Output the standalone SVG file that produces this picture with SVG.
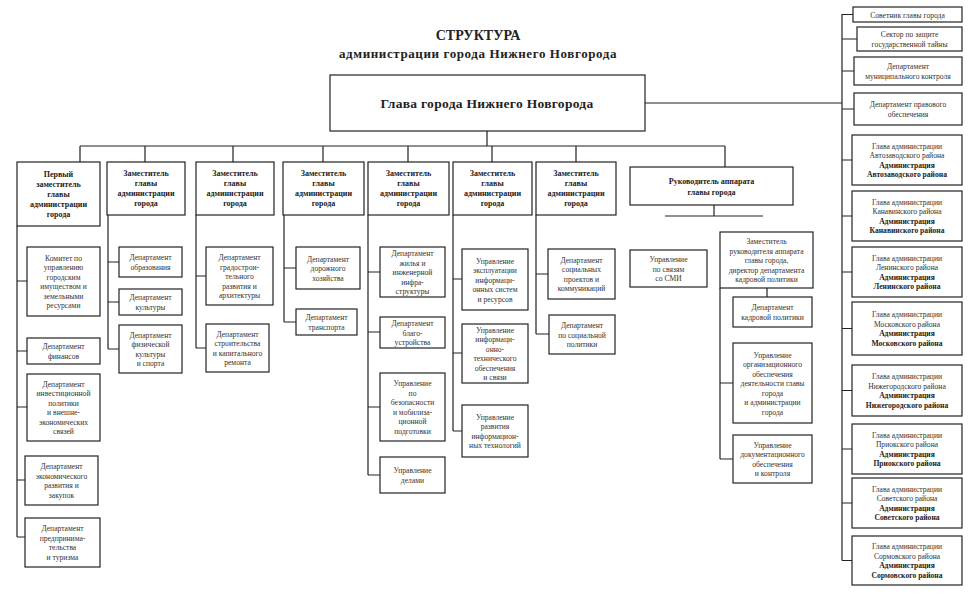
<svg xmlns="http://www.w3.org/2000/svg" width="970" height="607" viewBox="0 0 970 607">
<style>
rect{fill:#fff;stroke:#222;stroke-width:1.2}
text{font-family:"Liberation Serif",serif;font-size:7.6px;fill:#333;text-anchor:middle}
.h{font-weight:bold;font-size:8px;fill:#222}
.bd{font-weight:bold;fill:#222}
#conn path{fill:none;stroke:#222;stroke-width:1.2}
</style>
<rect width="970" height="607" style="fill:#fff;stroke:none"/>
<g id="title"><text x="478" y="40" style="font-size:14px;font-weight:bold;fill:#222">СТРУКТУРА</text>
<text x="478" y="58" style="font-size:13px;font-weight:bold;fill:#222;letter-spacing:0.6px">администрации города Нижнего Новгорода</text></g>
<g id="conn">
<path d="M645 103H842M842 14V560.5M487 131V146M80 146H725M80 146V162M145 146V162M233 146V162M323 146V162M408 146V162M492 146V162M576 146V162M725 146V167"/>
<path d="M842 14.5H853M842 39H857M842 71H854M842 109H854M842 160H852M842 216H852M842 272H852M842 328.5H852M842 390.5H852M842 449H852M842 503H852M842 560.5H852"/>
<path d="M17 226V537M17 281H27M17 351H27M17 407H27M17 480H25M17 537H25"/>
<path d="M108 215V349M108 262H119M108 302H119M108 349H119"/>
<path d="M196 215V348M196 276H206M196 348H206"/>
<path d="M284 215V322M284 268H296M284 322H296"/>
<path d="M368 215V475M368 272H380M368 332H380M368 407H380M368 475H380"/>
<path d="M453 215V431M453 279H462M453 353H462M453 431H462"/>
<path d="M536 215V334M536 274H548M536 334H549"/>
<path d="M714 205V216M665 216H763M767 288V297M720 288V459M720 383H733M720 459H733"/>
</g>
<g id="head"><rect x="330" y="75" width="315" height="56"/><text x="487" y="108" style="font-size:13.5px;font-weight:bold;fill:#222;letter-spacing:0.3px">Глава города Нижнего Новгорода</text></g>
<g id="z1"><rect x="17" y="162" width="83" height="64"/><text class="h" x="58.5" y="177"><tspan x="58.5">Первый</tspan><tspan x="58.5" dy="10">заместитель</tspan><tspan x="58.5" dy="10">главы</tspan><tspan x="58.5" dy="10">администрации</tspan><tspan x="58.5" dy="10">города</tspan></text></g>
<g id="z2"><rect x="107" y="162" width="78" height="53"/><text class="h" x="146" y="176"><tspan x="146">Заместитель</tspan><tspan x="146" dy="10">главы</tspan><tspan x="146" dy="10">администрации</tspan><tspan x="146" dy="10">города</tspan></text></g>
<g id="z3"><rect x="196" y="162" width="78" height="53"/><text class="h" x="235" y="176"><tspan x="235">Заместитель</tspan><tspan x="235" dy="10">главы</tspan><tspan x="235" dy="10">администрации</tspan><tspan x="235" dy="10">города</tspan></text></g>
<g id="z4"><rect x="283" y="162" width="81" height="53"/><text class="h" x="323.5" y="176"><tspan x="323.5">Заместитель</tspan><tspan x="323.5" dy="10">главы</tspan><tspan x="323.5" dy="10">администрации</tspan><tspan x="323.5" dy="10">города</tspan></text></g>
<g id="z5"><rect x="368" y="162" width="81" height="53"/><text class="h" x="408.5" y="176"><tspan x="408.5">Заместитель</tspan><tspan x="408.5" dy="10">главы</tspan><tspan x="408.5" dy="10">администрации</tspan><tspan x="408.5" dy="10">города</tspan></text></g>
<g id="z6"><rect x="453" y="162" width="79" height="53"/><text class="h" x="492.5" y="176"><tspan x="492.5">Заместитель</tspan><tspan x="492.5" dy="10">главы</tspan><tspan x="492.5" dy="10">администрации</tspan><tspan x="492.5" dy="10">города</tspan></text></g>
<g id="z7"><rect x="536" y="162" width="80" height="53"/><text class="h" x="576" y="176"><tspan x="576">Заместитель</tspan><tspan x="576" dy="10">главы</tspan><tspan x="576" dy="10">администрации</tspan><tspan x="576" dy="10">города</tspan></text></g>
<g id="ruk"><rect x="630" y="167" width="163" height="38"/><text class="h" x="711.5" y="184"><tspan x="711.5">Руководитель аппарата</tspan><tspan x="711.5" dy="11">главы города</tspan></text></g>

<g id="c1a"><rect x="27" y="247" width="73" height="69"/><text x="63.5" y="260.75"><tspan x="63.5">Комитет по</tspan><tspan x="63.5" dy="9.5">управлению</tspan><tspan x="63.5" dy="9.5">городским</tspan><tspan x="63.5" dy="9.5">имуществом и</tspan><tspan x="63.5" dy="9.5">земельными</tspan><tspan x="63.5" dy="9.5">ресурсами</tspan></text></g>
<g id="c1b"><rect x="27" y="338" width="73" height="26"/><text x="63.5" y="349.25"><tspan x="63.5">Департамент</tspan><tspan x="63.5" dy="9.5">финансов</tspan></text></g>
<g id="c1c"><rect x="27" y="374" width="73" height="67"/><text x="63.5" y="386.75"><tspan x="63.5">Департамент</tspan><tspan x="63.5" dy="9.5">инвестиционной</tspan><tspan x="63.5" dy="9.5">политики</tspan><tspan x="63.5" dy="9.5">и внешне-</tspan><tspan x="63.5" dy="9.5">экономических</tspan><tspan x="63.5" dy="9.5">связей</tspan></text></g>
<g id="c1d"><rect x="25" y="456" width="73" height="49"/><text x="61.5" y="469.25"><tspan x="61.5">Департамент</tspan><tspan x="61.5" dy="9.5">экономического</tspan><tspan x="61.5" dy="9.5">развития и</tspan><tspan x="61.5" dy="9.5">закупок</tspan></text></g>
<g id="c1e"><rect x="25" y="518" width="75" height="49"/><text x="62.5" y="531.25"><tspan x="62.5">Департамент</tspan><tspan x="62.5" dy="9.5">предпринима-</tspan><tspan x="62.5" dy="9.5">тельства</tspan><tspan x="62.5" dy="9.5">и туризма</tspan></text></g>

<g id="c2a"><rect x="119" y="247" width="63" height="30"/><text x="150.5" y="260.25"><tspan x="150.5">Департамент</tspan><tspan x="150.5" dy="9.5">образования</tspan></text></g>
<g id="c2b"><rect x="119" y="289" width="63" height="26"/><text x="150.5" y="300.25"><tspan x="150.5">Департамент</tspan><tspan x="150.5" dy="9.5">культуры</tspan></text></g>
<g id="c2c"><rect x="119" y="325" width="63" height="48"/><text x="150.5" y="337.75"><tspan x="150.5">Департамент</tspan><tspan x="150.5" dy="9.5">физической</tspan><tspan x="150.5" dy="9.5">культуры</tspan><tspan x="150.5" dy="9.5">и спорта</tspan></text></g>

<g id="c3a"><rect x="206" y="247" width="67" height="58"/><text x="239.5" y="260"><tspan x="239.5">Департамент</tspan><tspan x="239.5" dy="9.5">градострои-</tspan><tspan x="239.5" dy="9.5">тельного</tspan><tspan x="239.5" dy="9.5">развития и</tspan><tspan x="239.5" dy="9.5">архитектуры</tspan></text></g>
<g id="c3b"><rect x="206" y="324" width="63" height="48"/><text x="237.5" y="336.75"><tspan x="237.5">Департамент</tspan><tspan x="237.5" dy="9.5">строительства</tspan><tspan x="237.5" dy="9.5">и капитального</tspan><tspan x="237.5" dy="9.5">ремонта</tspan></text></g>

<g id="c4a"><rect x="296" y="247" width="64" height="42"/><text x="328" y="261.5"><tspan x="328">Департамент</tspan><tspan x="328" dy="9.5">дорожного</tspan><tspan x="328" dy="9.5">хозяйства</tspan></text></g>
<g id="c4b"><rect x="296" y="309" width="61" height="26"/><text x="326.5" y="320.25"><tspan x="326.5">Департамент</tspan><tspan x="326.5" dy="9.5">транспорта</tspan></text></g>

<g id="c5a"><rect x="380" y="247" width="65" height="50"/><text x="412.5" y="256"><tspan x="412.5">Департамент</tspan><tspan x="412.5" dy="9.5">жилья и</tspan><tspan x="412.5" dy="9.5">инженерной</tspan><tspan x="412.5" dy="9.5">инфра-</tspan><tspan x="412.5" dy="9.5">структуры</tspan></text></g>
<g id="c5b"><rect x="380" y="317" width="65" height="31"/><text x="412.5" y="326"><tspan x="412.5">Департамент</tspan><tspan x="412.5" dy="9.5">благо-</tspan><tspan x="412.5" dy="9.5">устройства</tspan></text></g>
<g id="c5c"><rect x="380" y="373" width="65" height="68"/><text x="412.5" y="386.25"><tspan x="412.5">Управление</tspan><tspan x="412.5" dy="9.5">по</tspan><tspan x="412.5" dy="9.5">безопасности</tspan><tspan x="412.5" dy="9.5">и мобилиза-</tspan><tspan x="412.5" dy="9.5">ционной</tspan><tspan x="412.5" dy="9.5">подготовки</tspan></text></g>
<g id="c5d"><rect x="380" y="457" width="65" height="36"/><text x="412.5" y="473.25"><tspan x="412.5">Управление</tspan><tspan x="412.5" dy="9.5">делами</tspan></text></g>

<g id="c6a"><rect x="462" y="249" width="66" height="61"/><text x="495" y="263.5"><tspan x="495">Управление</tspan><tspan x="495" dy="9.5">эксплуатации</tspan><tspan x="495" dy="9.5">информаци-</tspan><tspan x="495" dy="9.5">онных систем</tspan><tspan x="495" dy="9.5">и ресурсов</tspan></text></g>
<g id="c6b"><rect x="462" y="324" width="66" height="59"/><text x="495" y="332.75"><tspan x="495">Управление</tspan><tspan x="495" dy="9.5">информаци-</tspan><tspan x="495" dy="9.5">онно-</tspan><tspan x="495" dy="9.5">технического</tspan><tspan x="495" dy="9.5">обеспечения</tspan><tspan x="495" dy="9.5">и связи</tspan></text></g>
<g id="c6c"><rect x="462" y="405" width="66" height="52"/><text x="495" y="419.75"><tspan x="495">Управление</tspan><tspan x="495" dy="9.5">развития</tspan><tspan x="495" dy="9.5">информацион-</tspan><tspan x="495" dy="9.5">ных технологий</tspan></text></g>

<g id="c7a"><rect x="548" y="249" width="67" height="50"/><text x="581.5" y="262.75"><tspan x="581.5">Департамент</tspan><tspan x="581.5" dy="9.5">социальных</tspan><tspan x="581.5" dy="9.5">проектов и</tspan><tspan x="581.5" dy="9.5">коммуникаций</tspan></text></g>
<g id="c7b"><rect x="549" y="315" width="66" height="39"/><text x="582" y="328"><tspan x="582">Департамент</tspan><tspan x="582" dy="9.5">по социальной</tspan><tspan x="582" dy="9.5">политики</tspan></text></g>

<g id="smi"><rect x="630" y="250" width="77" height="37"/><text x="668.5" y="262"><tspan x="668.5">Управление</tspan><tspan x="668.5" dy="9.5">по связям</tspan><tspan x="668.5" dy="9.5">со СМИ</tspan></text></g>
<g id="zr"><rect x="720" y="232" width="93" height="56"/><text x="766.5" y="244"><tspan x="766.5">Заместитель</tspan><tspan x="766.5" dy="9.5">руководителя аппарата</tspan><tspan x="766.5" dy="9.5">главы города,</tspan><tspan x="766.5" dy="9.5">директор департамента</tspan><tspan x="766.5" dy="9.5">кадровой политики</tspan></text></g>
<g id="kadr"><rect x="733" y="297" width="79" height="30"/><text x="772.5" y="310.25"><tspan x="772.5">Департамент</tspan><tspan x="772.5" dy="9.5">кадровой политики</tspan></text></g>
<g id="org"><rect x="733" y="343" width="79" height="80"/><text x="772.5" y="357.5"><tspan x="772.5">Управление</tspan><tspan x="772.5" dy="9.5">организационного</tspan><tspan x="772.5" dy="9.5">обеспечения</tspan><tspan x="772.5" dy="9.5">деятельности главы</tspan><tspan x="772.5" dy="9.5">города</tspan><tspan x="772.5" dy="9.5">и администрации</tspan><tspan x="772.5" dy="9.5">города</tspan></text></g>
<g id="doc"><rect x="733" y="435" width="79" height="48"/><text x="772.5" y="447.75"><tspan x="772.5">Управление</tspan><tspan x="772.5" dy="9.5">документационного</tspan><tspan x="772.5" dy="9.5">обеспечения</tspan><tspan x="772.5" dy="9.5">и контроля</tspan></text></g>

<g id="r1"><rect x="853" y="7" width="109" height="15"/><text x="907.5" y="17.5">Советник главы города</text></g>
<g id="r2"><rect x="857" y="27" width="105" height="24"/><text x="909.5" y="37.25"><tspan x="909.5">Сектор по защите</tspan><tspan x="909.5" dy="9.5">государственной тайны</tspan></text></g>
<g id="r3"><rect x="854" y="57" width="108" height="28"/><text x="908" y="69.25"><tspan x="908">Департамент</tspan><tspan x="908" dy="9.5">муниципального контроля</tspan></text></g>
<g id="r4"><rect x="854" y="93" width="108" height="32"/><text x="908" y="107.25"><tspan x="908">Департамент правового</tspan><tspan x="908" dy="9.5">обеспечения</tspan></text></g>
<g id="d1"><rect x="852" y="135" width="110" height="50"/><text x="907" y="148.75"><tspan x="907">Глава администрации</tspan><tspan x="907" dy="9.5">Автозаводского района</tspan><tspan x="907" dy="9.5" class="bd">Администрация</tspan><tspan x="907" dy="9.5" class="bd">Автозаводского района</tspan></text></g>
<g id="d2"><rect x="852" y="191" width="110" height="50"/><text x="907" y="204.75"><tspan x="907">Глава администрации</tspan><tspan x="907" dy="9.5">Канавинского района</tspan><tspan x="907" dy="9.5" class="bd">Администрация</tspan><tspan x="907" dy="9.5" class="bd">Канавинского района</tspan></text></g>
<g id="d3"><rect x="852" y="247" width="110" height="50"/><text x="907" y="260.75"><tspan x="907">Глава администрации</tspan><tspan x="907" dy="9.5">Ленинского района</tspan><tspan x="907" dy="9.5" class="bd">Администрация</tspan><tspan x="907" dy="9.5" class="bd">Ленинского района</tspan></text></g>
<g id="d4"><rect x="852" y="302" width="110" height="53"/><text x="907" y="317.25"><tspan x="907">Глава администрации</tspan><tspan x="907" dy="9.5">Московского района</tspan><tspan x="907" dy="9.5" class="bd">Администрация</tspan><tspan x="907" dy="9.5" class="bd">Московского района</tspan></text></g>
<g id="d5"><rect x="852" y="365" width="110" height="51"/><text x="907" y="379.25"><tspan x="907">Глава администрации</tspan><tspan x="907" dy="9.5">Нижегородского района</tspan><tspan x="907" dy="9.5" class="bd">Администрация</tspan><tspan x="907" dy="9.5" class="bd">Нижегородского района</tspan></text></g>
<g id="d6"><rect x="852" y="424" width="110" height="50"/><text x="907" y="437.75"><tspan x="907">Глава администрации</tspan><tspan x="907" dy="9.5">Приокского района</tspan><tspan x="907" dy="9.5" class="bd">Администрация</tspan><tspan x="907" dy="9.5" class="bd">Приокского района</tspan></text></g>
<g id="d7"><rect x="852" y="478" width="110" height="50"/><text x="907" y="491.75"><tspan x="907">Глава администрации</tspan><tspan x="907" dy="9.5">Советского района</tspan><tspan x="907" dy="9.5" class="bd">Администрация</tspan><tspan x="907" dy="9.5" class="bd">Советского района</tspan></text></g>
<g id="d8"><rect x="852" y="536" width="110" height="49"/><text x="907" y="549.25"><tspan x="907">Глава администрации</tspan><tspan x="907" dy="9.5">Сормовского района</tspan><tspan x="907" dy="9.5" class="bd">Администрация</tspan><tspan x="907" dy="9.5" class="bd">Сормовского района</tspan></text></g>
</svg>
